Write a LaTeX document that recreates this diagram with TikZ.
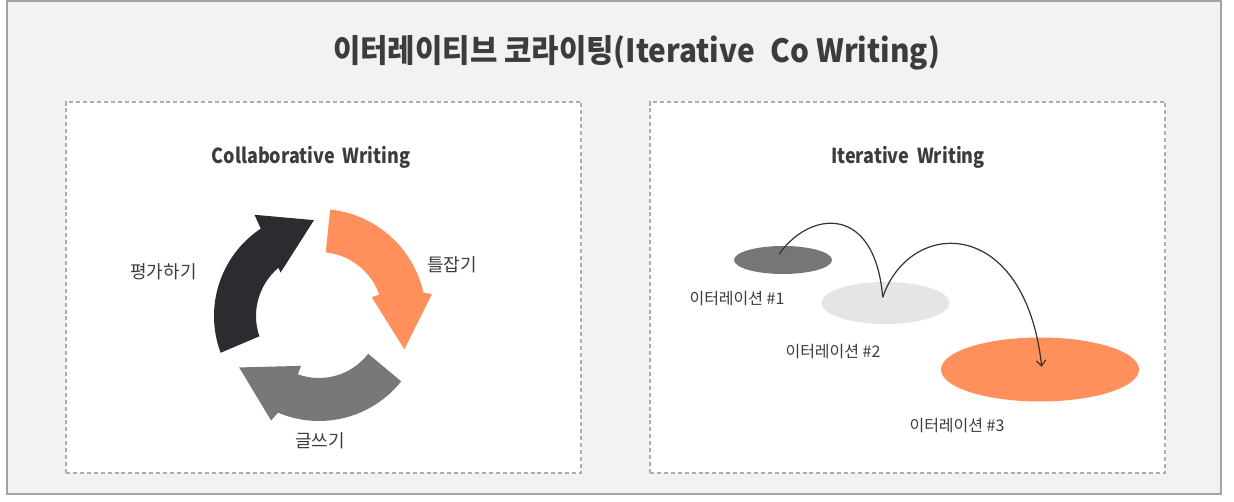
\documentclass[tikz,border=0pt]{standalone}
\usepackage{fontspec}
\usepackage{graphicx}
\setmainfont{Noto Sans CJK KR}
\usetikzlibrary{arrows.meta,shapes.geometric}
\definecolor{bgc}{HTML}{F2F2F2}
\definecolor{framec}{HTML}{A3A3A3}
\definecolor{dashc}{HTML}{ADADAD}
\definecolor{txt}{HTML}{3C3C3C}
\definecolor{orng}{HTML}{FF8F5B}
\definecolor{drk}{HTML}{2B2C30}
\definecolor{gry}{HTML}{77787A}
\definecolor{egry}{HTML}{767676}
\definecolor{lgry}{HTML}{E5E5E5}
\definecolor{curvec}{HTML}{333333}
\begin{document}
\begin{tikzpicture}[x=0.75pt,y=0.75pt,
  panel/.style={draw=dashc,fill=white,line width=0.9pt,dash pattern=on 3pt off 2.2pt},
  titletxt/.style={text=txt,font=\fontsize{24}{28}\selectfont\bfseries,inner sep=0pt},
  subtxt/.style={text=txt,font=\fontsize{15.5}{18}\selectfont\bfseries,inner sep=0pt},
  lbl/.style={text=txt,font=\fontsize{13.5}{16}\selectfont,inner sep=0pt},
  itlbl/.style={text=txt,font=\fontsize{12}{14}\selectfont,inner sep=0pt},
  jump/.style={draw=curvec,line width=0.9pt},
  blob/.style={ellipse,inner sep=0pt,draw=none}
]
\useasboundingbox (0,0) rectangle (1234,502);
% outer frame
\draw[fill=bgc,draw=framec,line width=1.2pt] (7,8) rectangle (1221,501);
% panels
\draw[panel] (66,29) rectangle (581,400);
\draw[panel] (650,29) rectangle (1165,400);
% titles
\node[titletxt] (title) at (636.7,449) {\scalebox{0.93}[1]{이터레이티브 코라이팅(Iterative\hspace{0.3em} Co Writing)}};
\node[subtxt] (lt) at (311,345) {\scalebox{0.87}[1]{Collaborative\hspace{0.2em} Writing}};
\node[subtxt] (rt) at (908,345) {\scalebox{0.87}[1]{Iterative\hspace{0.2em} Writing}};
% cycle arrows
\begin{scope}[shift={(319,186)}]
  \fill[orng] (84:107) arc[start angle=84,end angle=12.6,radius=107]
     -- (11:115) -- (-21.3:91.6) -- (19.5:56) -- (19.6:64)
     arc[start angle=19.6,end angle=84,radius=64] -- cycle;
  \fill[drk] (200.5:105) arc[start angle=200.5,end angle=123.7,radius=105]
     -- (122.5:120) -- (93:96) -- (131.5:58) -- (130.1:63)
     arc[start angle=130.1,end angle=198.8,radius=63] -- cycle;
  \fill[gry] (-38.5:105) arc[start angle=-38.5,end angle=-113,radius=105]
     -- (-114.6:115) -- (-147.2:95) -- (-109.8:53) -- (-110:62)
     arc[start angle=-110,end angle=-37.5,radius=62] -- cycle;
\end{scope}
\node[lbl] (l1) at (163.5,230) {평가하기};
\node[lbl] (l2) at (452,237) {틀잡기};
\node[lbl] (l3) at (320,61) {글쓰기};
% iterations
\node[blob,fill=egry,minimum width=73.5pt,minimum height=21pt] (e1) at (783,242) {};
\node[blob,fill=lgry,minimum width=96pt,minimum height=31.5pt] (e2) at (885.5,199) {};
\node[blob,fill=orng,minimum width=148.5pt,minimum height=48pt] (e3) at (1040,132.5) {};
\coordinate (p1) at (779,247.7);
\coordinate (p2) at (882.7,204.7);
\coordinate (p3) at (1041.7,135.3);
\draw[jump] (p1) .. controls (810,292) and (875,298) .. (p2);
\draw[jump,-{Straight Barb[length=4pt,width=7pt]}] (p2) .. controls (910,285) and (1025,286) .. (p3);
\node[itlbl] (i1) at (737,203) {이터레이션 \#1};
\node[itlbl] (i2) at (833,150) {이터레이션 \#2};
\node[itlbl] (i3) at (957,76) {이터레이션 \#3};
\end{tikzpicture}
\end{document}
